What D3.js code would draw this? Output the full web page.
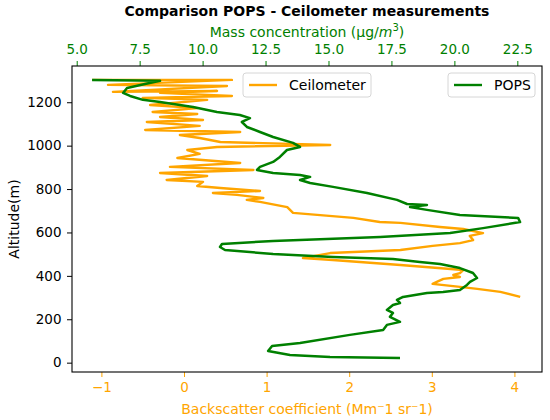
<!DOCTYPE html>
<html>
<head>
<meta charset="utf-8">
<script src="https://cdn.jsdelivr.net/npm/d3@7"></script>
<style>
  body { margin: 0; background: #fff; }
  svg text { font-family: "DejaVu Sans", sans-serif; }
</style>
</head>
<body>
<svg id="chart" width="550" height="420"></svg>
<script>
// altitude (m) and values, in drawing order
var ceilAlt = [1303, 1303, 1280, 1275, 1248, 1252, 1243, 1229, 1220, 1211, 1187, 1173, 1155, 1146, 1132, 1118,
  1109, 1091, 1072, 1063, 1049, 1035, 1017, 1003, 994, 980, 962, 943, 920, 902, 888, 874, 860, 842, 833,
  814, 805, 791, 782, 773, 759, 750, 741, 717, 690, 667, 648, 644, 625, 616, 597, 584, 565, 551, 538,
  519, 505, 482, 473, 450, 427, 413, 404, 395, 386, 372, 363, 349, 340, 326, 303];
var ceilVal = [-1.11, 0.58, -0.92, 0.52, -0.86, 0.40, -0.29, 0.58, -0.50, 0.28, -0.41, 0.16, -0.38, 0.16, -0.29, 0.23,
  -0.45, 0.19, -0.47, 0.68, -0.05, 0.19, 0.44, 1.77, 0.40, 0.04, 0.19, -0.08, 0.68, -0.17, 0.84, -0.29, 0.28, -0.21, 0.23,
  0.16, 0.44, 0.92, 0.35, 0.64, 0.96, 0.76, 0.92, 1.25, 1.32, 2.05, 2.37, 2.62, 3.10, 3.38, 3.62, 3.46, 3.50, 3.34, 3.01,
  2.62, 1.77, 1.44, 1.80, 2.62, 3.38, 3.34, 3.26, 3.34, 3.14, 3.06, 3.01, 3.34, 3.55, 3.83, 4.07];

var popsAlt = [22, 26, 35, 54, 77, 91, 128, 151, 174, 188, 211, 229, 243, 266, 275, 289, 303, 321, 326, 335, 358, 372,
  390, 413, 436, 455, 464, 478, 487, 501, 519, 533, 547, 561, 579, 597, 620, 648, 667, 680, 704, 717, 727,
  731, 750, 782, 810, 828, 842, 856, 865, 874, 888, 902, 925, 948, 980, 994, 1013, 1040, 1063, 1086, 1109,
  1127, 1141, 1155, 1178, 1201, 1211, 1229, 1243, 1266, 1284, 1299, 1303];
var popsVal = [17.84, 15.06, 13.47, 12.60, 12.76, 13.87, 15.85, 17.17, 17.32, 17.84, 17.44, 17.56, 17.32, 17.56, 17.84, 17.72, 17.96, 18.91, 19.55, 20.22, 20.50, 20.62,
  20.90, 20.74, 20.22, 19.43, 18.63, 17.56, 15.18, 12.80, 10.89, 10.69, 10.77, 12.80, 17.05, 19.83, 21.14, 22.61, 22.53, 20.22, 18.91, 18.24, 18.91,
  18.12, 17.72, 16.53, 15.18, 14.27, 13.87, 14.27, 13.87, 12.80, 12.16, 12.28, 12.80, 13.07, 13.35, 13.87, 13.59, 12.80, 12.28, 11.76, 11.56,
  11.88, 11.48, 10.57, 9.62, 8.31, 7.63, 7.12, 6.84, 7.00, 7.71, 8.31, 5.61];

var ceilTicks = [-1, 0, 1, 2, 3, 4];
var popsTicks = [5, 7.5, 10, 12.5, 15, 17.5, 20, 22.5];
var altTicks = [0, 200, 400, 600, 800, 1000, 1200];

var orange = '#ffa500';
var green = '#008000';

var plot = {left: 72, right: 542, top: 66, bottom: 372};
var svg = d3.select('#chart');

var y = d3.scaleLinear().domain([-43, 1367]).range([plot.bottom, plot.top]);
var xCeil = d3.scaleLinear().domain([-1.356, 4.334]).range([plot.left, plot.right]);
var xPops = d3.scaleLinear().domain([4.813, 23.48]).range([plot.left, plot.right]);

function pairs(a, v) {
    return a.map(function (d, i) { return [v[i], d]; });
}

var ceilLine = d3.line().x(function (d) { return xCeil(d[0]); }).y(function (d) { return y(d[1]); });
var popsLine = d3.line().x(function (d) { return xPops(d[0]); }).y(function (d) { return y(d[1]); });

svg.append('path').datum(pairs(ceilAlt, ceilVal))
    .attr('d', ceilLine).attr('fill', 'none').attr('stroke', orange)
    .attr('stroke-width', 2.4).attr('stroke-linejoin', 'round');
svg.append('path').datum(pairs(popsAlt, popsVal))
    .attr('d', popsLine).attr('fill', 'none').attr('stroke', green)
    .attr('stroke-width', 2.5).attr('stroke-linejoin', 'round');

// axes, domain lines removed, frame drawn separately
var gBottom = svg.append('g').attr('transform', 'translate(0,' + plot.bottom + ')')
    .call(d3.axisBottom(xCeil).tickValues(ceilTicks).tickFormat(d3.format('d')).tickSize(5).tickPadding(5));
var gTop = svg.append('g').attr('transform', 'translate(0,' + plot.top + ')')
    .call(d3.axisTop(xPops).tickValues(popsTicks).tickFormat(d3.format('.1f')).tickSize(5).tickPadding(7));
var gLeft = svg.append('g').attr('transform', 'translate(' + plot.left + ',0)')
    .call(d3.axisLeft(y).tickValues(altTicks).tickFormat(d3.format('d')).tickSize(5).tickPadding(5.5));

function styleAxis(g, color) {
    g.select('.domain').remove();
    g.selectAll('.tick line').attr('stroke', color).attr('stroke-width', 1);
    g.selectAll('.tick text').attr('fill', color).style('font-size', '13.5px')
        .style('font-family', '"DejaVu Sans", sans-serif');
}
styleAxis(gBottom, orange);
styleAxis(gTop, green);
styleAxis(gLeft, '#000');

svg.append('rect')
    .attr('x', plot.left).attr('y', plot.top)
    .attr('width', plot.right - plot.left).attr('height', plot.bottom - plot.top)
    .attr('fill', 'none').attr('stroke', '#000').attr('stroke-width', 1.1);

// titles
var cx = (plot.left + plot.right) / 2;
svg.append('text').attr('x', cx).attr('y', 16).attr('text-anchor', 'middle')
    .style('font-size', '14px').style('font-weight', 'bold')
    .text('Comparison POPS - Ceilometer measurements');

var topLabel = svg.append('text').attr('x', cx).attr('y', 37).attr('text-anchor', 'middle')
    .attr('fill', green).style('font-size', '14px');
topLabel.append('tspan').text('Mass concentration (μg/');
topLabel.append('tspan').style('font-style', 'italic').text('m');
topLabel.append('tspan').attr('dy', -6).style('font-size', '10px').text('3');
topLabel.append('tspan').attr('dy', 6).text(')');

svg.append('text').attr('x', cx).attr('y', 414).attr('text-anchor', 'middle')
    .attr('fill', orange).style('font-size', '14px')
    .text('Backscatter coefficient (Mm⁻1 sr⁻1)');

svg.append('text').attr('transform', 'translate(19,' + ((plot.top + plot.bottom) / 2) + ') rotate(-90)')
    .attr('text-anchor', 'middle').style('font-size', '14px')
    .text('Altitude(m)');

// legends
function legend(x, w, color, label) {
    var g = svg.append('g').attr('transform', 'translate(' + x + ',73)');
    g.append('rect').attr('width', w).attr('height', 24).attr('rx', 3)
        .attr('fill', '#fff').attr('fill-opacity', 0.8).attr('stroke', '#d6d6d6');
    g.append('line').attr('x1', 6).attr('x2', 34).attr('y1', 12).attr('y2', 12)
        .attr('stroke', color).attr('stroke-width', 2.4);
    g.append('text').attr('x', 46).attr('y', 17).style('font-size', '14px').text(label);
}
legend(243, 128, orange, 'Ceilometer');
legend(448, 87, green, 'POPS');
</script>
</body>
</html>
